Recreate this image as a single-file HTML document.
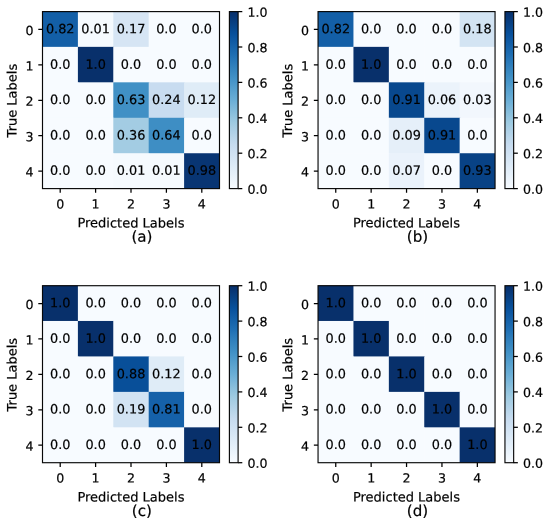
<!DOCTYPE html>
<html lang="en"><head><meta charset="utf-8"><title>Confusion matrices</title>
<style>
html,body{margin:0;padding:0;background:#fff;}
body{width:550px;height:526px;overflow:hidden;}
svg{display:block;}
svg text{text-rendering:geometricPrecision;font-family:"DejaVu Sans","Liberation Sans",sans-serif;fill:#000;stroke:#000;stroke-width:0.2px;}
.t{font-size:12.6px}.n{font-size:12.85px}.l{font-size:13px}.c{font-size:15.1px}
</style></head><body>
<svg width="550" height="526" viewBox="0 0 550 526">
<defs><linearGradient id="cb" x1="0" y1="1" x2="0" y2="0">
<stop offset="0.0000" stop-color="#f7fbff"/><stop offset="0.0312" stop-color="#f1f7fd"/><stop offset="0.0625" stop-color="#eaf3fb"/><stop offset="0.0938" stop-color="#e4eff9"/><stop offset="0.1250" stop-color="#deebf7"/><stop offset="0.1562" stop-color="#d8e7f5"/><stop offset="0.1875" stop-color="#d2e3f3"/><stop offset="0.2188" stop-color="#ccdff1"/><stop offset="0.2500" stop-color="#c6dbef"/><stop offset="0.2812" stop-color="#bcd7eb"/><stop offset="0.3125" stop-color="#b2d2e8"/><stop offset="0.3438" stop-color="#a8cee4"/><stop offset="0.3750" stop-color="#9dcae1"/><stop offset="0.4062" stop-color="#91c3de"/><stop offset="0.4375" stop-color="#84bcdb"/><stop offset="0.4688" stop-color="#77b5d9"/><stop offset="0.5000" stop-color="#6aaed6"/><stop offset="0.5312" stop-color="#60a7d2"/><stop offset="0.5625" stop-color="#56a0ce"/><stop offset="0.5938" stop-color="#4b98ca"/><stop offset="0.6250" stop-color="#4191c6"/><stop offset="0.6562" stop-color="#3989c1"/><stop offset="0.6875" stop-color="#3181bd"/><stop offset="0.7188" stop-color="#2979b9"/><stop offset="0.7500" stop-color="#2070b4"/><stop offset="0.7812" stop-color="#1a68ae"/><stop offset="0.8125" stop-color="#1460a8"/><stop offset="0.8438" stop-color="#0e58a2"/><stop offset="0.8750" stop-color="#08509b"/><stop offset="0.9062" stop-color="#08488e"/><stop offset="0.9375" stop-color="#084082"/><stop offset="0.9688" stop-color="#083776"/><stop offset="1.0000" stop-color="#08306b"/>
</linearGradient></defs>
<rect width="550" height="526" fill="#fff"/>
<g>
<rect x="42.50" y="11.40" width="36.00" height="36.06" fill="#135fa7"/>
<rect x="77.90" y="11.40" width="36.00" height="36.06" fill="#f5fafe"/>
<rect x="113.30" y="11.40" width="36.00" height="36.06" fill="#d6e5f4"/>
<rect x="148.70" y="11.40" width="36.00" height="36.06" fill="#f7fbff"/>
<rect x="184.10" y="11.40" width="35.40" height="36.06" fill="#f7fbff"/>
<rect x="42.50" y="46.86" width="36.00" height="36.06" fill="#f7fbff"/>
<rect x="77.90" y="46.86" width="36.00" height="36.06" fill="#08306b"/>
<rect x="113.30" y="46.86" width="36.00" height="36.06" fill="#f7fbff"/>
<rect x="148.70" y="46.86" width="36.00" height="36.06" fill="#f7fbff"/>
<rect x="184.10" y="46.86" width="35.40" height="36.06" fill="#f7fbff"/>
<rect x="42.50" y="82.32" width="36.00" height="36.06" fill="#f7fbff"/>
<rect x="77.90" y="82.32" width="36.00" height="36.06" fill="#f7fbff"/>
<rect x="113.30" y="82.32" width="36.00" height="36.06" fill="#4090c5"/>
<rect x="148.70" y="82.32" width="36.00" height="36.06" fill="#c8dcf0"/>
<rect x="184.10" y="82.32" width="35.40" height="36.06" fill="#dfecf7"/>
<rect x="42.50" y="117.78" width="36.00" height="36.06" fill="#f7fbff"/>
<rect x="77.90" y="117.78" width="36.00" height="36.06" fill="#f7fbff"/>
<rect x="113.30" y="117.78" width="36.00" height="36.06" fill="#a3cce3"/>
<rect x="148.70" y="117.78" width="36.00" height="36.06" fill="#3e8ec4"/>
<rect x="184.10" y="117.78" width="35.40" height="36.06" fill="#f7fbff"/>
<rect x="42.50" y="153.24" width="36.00" height="35.46" fill="#f7fbff"/>
<rect x="77.90" y="153.24" width="36.00" height="35.46" fill="#f7fbff"/>
<rect x="113.30" y="153.24" width="36.00" height="35.46" fill="#f5fafe"/>
<rect x="148.70" y="153.24" width="36.00" height="35.46" fill="#f5fafe"/>
<rect x="184.10" y="153.24" width="35.40" height="35.46" fill="#083573"/>
<text class="n" transform="translate(60.20 33.25) rotate(0.05)" text-anchor="middle">0.82</text>
<text class="n" transform="translate(95.60 33.25) rotate(0.05)" text-anchor="middle">0.01</text>
<text class="n" transform="translate(131.00 33.25) rotate(0.05)" text-anchor="middle">0.17</text>
<text class="n" transform="translate(166.40 33.25) rotate(0.05)" text-anchor="middle">0.0</text>
<text class="n" transform="translate(201.80 33.25) rotate(0.05)" text-anchor="middle">0.0</text>
<text class="n" transform="translate(60.20 68.65) rotate(0.05)" text-anchor="middle">0.0</text>
<text class="n" transform="translate(95.60 68.65) rotate(0.05)" text-anchor="middle">1.0</text>
<text class="n" transform="translate(131.00 68.65) rotate(0.05)" text-anchor="middle">0.0</text>
<text class="n" transform="translate(166.40 68.65) rotate(0.05)" text-anchor="middle">0.0</text>
<text class="n" transform="translate(201.80 68.65) rotate(0.05)" text-anchor="middle">0.0</text>
<text class="n" transform="translate(60.20 104.05) rotate(0.05)" text-anchor="middle">0.0</text>
<text class="n" transform="translate(95.60 104.05) rotate(0.05)" text-anchor="middle">0.0</text>
<text class="n" transform="translate(131.00 104.05) rotate(0.05)" text-anchor="middle">0.63</text>
<text class="n" transform="translate(166.40 104.05) rotate(0.05)" text-anchor="middle">0.24</text>
<text class="n" transform="translate(201.80 104.05) rotate(0.05)" text-anchor="middle">0.12</text>
<text class="n" transform="translate(60.20 139.45) rotate(0.05)" text-anchor="middle">0.0</text>
<text class="n" transform="translate(95.60 139.45) rotate(0.05)" text-anchor="middle">0.0</text>
<text class="n" transform="translate(131.00 139.45) rotate(0.05)" text-anchor="middle">0.36</text>
<text class="n" transform="translate(166.40 139.45) rotate(0.05)" text-anchor="middle">0.64</text>
<text class="n" transform="translate(201.80 139.45) rotate(0.05)" text-anchor="middle">0.0</text>
<text class="n" transform="translate(60.20 174.85) rotate(0.05)" text-anchor="middle">0.0</text>
<text class="n" transform="translate(95.60 174.85) rotate(0.05)" text-anchor="middle">0.0</text>
<text class="n" transform="translate(131.00 174.85) rotate(0.05)" text-anchor="middle">0.01</text>
<text class="n" transform="translate(166.40 174.85) rotate(0.05)" text-anchor="middle">0.01</text>
<text class="n" transform="translate(201.80 174.85) rotate(0.05)" text-anchor="middle">0.98</text>
<rect x="42.50" y="11.60" width="177.00" height="177.00" fill="none" stroke="#080808" stroke-width="1.15"/>
<path d="M60.20 188.60v4.20M42.50 29.45h-4.20" stroke="#000" stroke-width="1.25" fill="none"/>
<text class="t" transform="translate(60.20 208.50) rotate(0.05)" text-anchor="middle">0</text>
<text class="t" transform="translate(33.45 35.00) rotate(0.05)" text-anchor="end">0</text>
<path d="M95.60 188.60v4.20M42.50 64.85h-4.20" stroke="#000" stroke-width="1.25" fill="none"/>
<text class="t" transform="translate(95.60 208.50) rotate(0.05)" text-anchor="middle">1</text>
<text class="t" transform="translate(33.45 70.40) rotate(0.05)" text-anchor="end">1</text>
<path d="M131.00 188.60v4.20M42.50 100.25h-4.20" stroke="#000" stroke-width="1.25" fill="none"/>
<text class="t" transform="translate(131.00 208.50) rotate(0.05)" text-anchor="middle">2</text>
<text class="t" transform="translate(33.45 105.80) rotate(0.05)" text-anchor="end">2</text>
<path d="M166.40 188.60v4.20M42.50 135.65h-4.20" stroke="#000" stroke-width="1.25" fill="none"/>
<text class="t" transform="translate(166.40 208.50) rotate(0.05)" text-anchor="middle">3</text>
<text class="t" transform="translate(33.45 141.20) rotate(0.05)" text-anchor="end">3</text>
<path d="M201.80 188.60v4.20M42.50 171.05h-4.20" stroke="#000" stroke-width="1.25" fill="none"/>
<text class="t" transform="translate(201.80 208.50) rotate(0.05)" text-anchor="middle">4</text>
<text class="t" transform="translate(33.45 176.60) rotate(0.05)" text-anchor="end">4</text>
<text class="l" transform="translate(130.90 227.40) rotate(0.05)" text-anchor="middle">Predicted Labels</text>
<text class="l" transform="translate(16.60 100.60) rotate(-90) skewY(0.05)" text-anchor="middle">True Labels</text>
<text class="c" transform="translate(141.90 241.80) rotate(0.05)" text-anchor="middle">(a)</text>
<rect x="229.40" y="11.60" width="8.70" height="177.00" fill="url(#cb)" stroke="#080808" stroke-width="1.15"/>
<path d="M238.10 188.60h4.20" stroke="#000" stroke-width="1.25"/>
<text class="t" transform="translate(247.40 193.75) rotate(0.05)">0.0</text>
<path d="M238.10 153.20h4.20" stroke="#000" stroke-width="1.25"/>
<text class="t" transform="translate(247.40 158.35) rotate(0.05)">0.2</text>
<path d="M238.10 117.80h4.20" stroke="#000" stroke-width="1.25"/>
<text class="t" transform="translate(247.40 122.95) rotate(0.05)">0.4</text>
<path d="M238.10 82.40h4.20" stroke="#000" stroke-width="1.25"/>
<text class="t" transform="translate(247.40 87.55) rotate(0.05)">0.6</text>
<path d="M238.10 47.00h4.20" stroke="#000" stroke-width="1.25"/>
<text class="t" transform="translate(247.40 52.15) rotate(0.05)">0.8</text>
<path d="M238.10 11.60h4.20" stroke="#000" stroke-width="1.25"/>
<text class="t" transform="translate(247.40 16.75) rotate(0.05)">1.0</text>
</g>
<g>
<rect x="318.05" y="11.40" width="36.00" height="36.06" fill="#135fa7"/>
<rect x="353.45" y="11.40" width="36.00" height="36.06" fill="#f7fbff"/>
<rect x="388.85" y="11.40" width="36.00" height="36.06" fill="#f7fbff"/>
<rect x="424.25" y="11.40" width="36.00" height="36.06" fill="#f7fbff"/>
<rect x="459.65" y="11.40" width="35.40" height="36.06" fill="#d3e4f3"/>
<rect x="318.05" y="46.86" width="36.00" height="36.06" fill="#f7fbff"/>
<rect x="353.45" y="46.86" width="36.00" height="36.06" fill="#08306b"/>
<rect x="388.85" y="46.86" width="36.00" height="36.06" fill="#f7fbff"/>
<rect x="424.25" y="46.86" width="36.00" height="36.06" fill="#f7fbff"/>
<rect x="459.65" y="46.86" width="35.40" height="36.06" fill="#f7fbff"/>
<rect x="318.05" y="82.32" width="36.00" height="36.06" fill="#f7fbff"/>
<rect x="353.45" y="82.32" width="36.00" height="36.06" fill="#f7fbff"/>
<rect x="388.85" y="82.32" width="36.00" height="36.06" fill="#08488e"/>
<rect x="424.25" y="82.32" width="36.00" height="36.06" fill="#ebf3fb"/>
<rect x="459.65" y="82.32" width="35.40" height="36.06" fill="#f2f7fd"/>
<rect x="318.05" y="117.78" width="36.00" height="36.06" fill="#f7fbff"/>
<rect x="353.45" y="117.78" width="36.00" height="36.06" fill="#f7fbff"/>
<rect x="388.85" y="117.78" width="36.00" height="36.06" fill="#e5eff9"/>
<rect x="424.25" y="117.78" width="36.00" height="36.06" fill="#08488e"/>
<rect x="459.65" y="117.78" width="35.40" height="36.06" fill="#f7fbff"/>
<rect x="318.05" y="153.24" width="36.00" height="35.46" fill="#f7fbff"/>
<rect x="353.45" y="153.24" width="36.00" height="35.46" fill="#f7fbff"/>
<rect x="388.85" y="153.24" width="36.00" height="35.46" fill="#eaf2fb"/>
<rect x="424.25" y="153.24" width="36.00" height="35.46" fill="#f7fbff"/>
<rect x="459.65" y="153.24" width="35.40" height="35.46" fill="#084285"/>
<text class="n" transform="translate(335.75 33.25) rotate(0.05)" text-anchor="middle">0.82</text>
<text class="n" transform="translate(371.15 33.25) rotate(0.05)" text-anchor="middle">0.0</text>
<text class="n" transform="translate(406.55 33.25) rotate(0.05)" text-anchor="middle">0.0</text>
<text class="n" transform="translate(441.95 33.25) rotate(0.05)" text-anchor="middle">0.0</text>
<text class="n" transform="translate(477.35 33.25) rotate(0.05)" text-anchor="middle">0.18</text>
<text class="n" transform="translate(335.75 68.65) rotate(0.05)" text-anchor="middle">0.0</text>
<text class="n" transform="translate(371.15 68.65) rotate(0.05)" text-anchor="middle">1.0</text>
<text class="n" transform="translate(406.55 68.65) rotate(0.05)" text-anchor="middle">0.0</text>
<text class="n" transform="translate(441.95 68.65) rotate(0.05)" text-anchor="middle">0.0</text>
<text class="n" transform="translate(477.35 68.65) rotate(0.05)" text-anchor="middle">0.0</text>
<text class="n" transform="translate(335.75 104.05) rotate(0.05)" text-anchor="middle">0.0</text>
<text class="n" transform="translate(371.15 104.05) rotate(0.05)" text-anchor="middle">0.0</text>
<text class="n" transform="translate(406.55 104.05) rotate(0.05)" text-anchor="middle">0.91</text>
<text class="n" transform="translate(441.95 104.05) rotate(0.05)" text-anchor="middle">0.06</text>
<text class="n" transform="translate(477.35 104.05) rotate(0.05)" text-anchor="middle">0.03</text>
<text class="n" transform="translate(335.75 139.45) rotate(0.05)" text-anchor="middle">0.0</text>
<text class="n" transform="translate(371.15 139.45) rotate(0.05)" text-anchor="middle">0.0</text>
<text class="n" transform="translate(406.55 139.45) rotate(0.05)" text-anchor="middle">0.09</text>
<text class="n" transform="translate(441.95 139.45) rotate(0.05)" text-anchor="middle">0.91</text>
<text class="n" transform="translate(477.35 139.45) rotate(0.05)" text-anchor="middle">0.0</text>
<text class="n" transform="translate(335.75 174.85) rotate(0.05)" text-anchor="middle">0.0</text>
<text class="n" transform="translate(371.15 174.85) rotate(0.05)" text-anchor="middle">0.0</text>
<text class="n" transform="translate(406.55 174.85) rotate(0.05)" text-anchor="middle">0.07</text>
<text class="n" transform="translate(441.95 174.85) rotate(0.05)" text-anchor="middle">0.0</text>
<text class="n" transform="translate(477.35 174.85) rotate(0.05)" text-anchor="middle">0.93</text>
<rect x="318.05" y="11.60" width="177.00" height="177.00" fill="none" stroke="#080808" stroke-width="1.15"/>
<path d="M335.75 188.60v4.20M318.05 29.45h-4.20" stroke="#000" stroke-width="1.25" fill="none"/>
<text class="t" transform="translate(335.75 208.50) rotate(0.05)" text-anchor="middle">0</text>
<text class="t" transform="translate(309.00 35.00) rotate(0.05)" text-anchor="end">0</text>
<path d="M371.15 188.60v4.20M318.05 64.85h-4.20" stroke="#000" stroke-width="1.25" fill="none"/>
<text class="t" transform="translate(371.15 208.50) rotate(0.05)" text-anchor="middle">1</text>
<text class="t" transform="translate(309.00 70.40) rotate(0.05)" text-anchor="end">1</text>
<path d="M406.55 188.60v4.20M318.05 100.25h-4.20" stroke="#000" stroke-width="1.25" fill="none"/>
<text class="t" transform="translate(406.55 208.50) rotate(0.05)" text-anchor="middle">2</text>
<text class="t" transform="translate(309.00 105.80) rotate(0.05)" text-anchor="end">2</text>
<path d="M441.95 188.60v4.20M318.05 135.65h-4.20" stroke="#000" stroke-width="1.25" fill="none"/>
<text class="t" transform="translate(441.95 208.50) rotate(0.05)" text-anchor="middle">3</text>
<text class="t" transform="translate(309.00 141.20) rotate(0.05)" text-anchor="end">3</text>
<path d="M477.35 188.60v4.20M318.05 171.05h-4.20" stroke="#000" stroke-width="1.25" fill="none"/>
<text class="t" transform="translate(477.35 208.50) rotate(0.05)" text-anchor="middle">4</text>
<text class="t" transform="translate(309.00 176.60) rotate(0.05)" text-anchor="end">4</text>
<text class="l" transform="translate(406.45 227.40) rotate(0.05)" text-anchor="middle">Predicted Labels</text>
<text class="l" transform="translate(292.15 100.60) rotate(-90) skewY(0.05)" text-anchor="middle">True Labels</text>
<text class="c" transform="translate(417.45 241.80) rotate(0.05)" text-anchor="middle">(b)</text>
<rect x="504.95" y="11.60" width="8.70" height="177.00" fill="url(#cb)" stroke="#080808" stroke-width="1.15"/>
<path d="M513.65 188.60h4.20" stroke="#000" stroke-width="1.25"/>
<text class="t" transform="translate(522.95 193.75) rotate(0.05)">0.0</text>
<path d="M513.65 153.20h4.20" stroke="#000" stroke-width="1.25"/>
<text class="t" transform="translate(522.95 158.35) rotate(0.05)">0.2</text>
<path d="M513.65 117.80h4.20" stroke="#000" stroke-width="1.25"/>
<text class="t" transform="translate(522.95 122.95) rotate(0.05)">0.4</text>
<path d="M513.65 82.40h4.20" stroke="#000" stroke-width="1.25"/>
<text class="t" transform="translate(522.95 87.55) rotate(0.05)">0.6</text>
<path d="M513.65 47.00h4.20" stroke="#000" stroke-width="1.25"/>
<text class="t" transform="translate(522.95 52.15) rotate(0.05)">0.8</text>
<path d="M513.65 11.60h4.20" stroke="#000" stroke-width="1.25"/>
<text class="t" transform="translate(522.95 16.75) rotate(0.05)">1.0</text>
</g>
<g>
<rect x="42.50" y="285.50" width="36.00" height="36.06" fill="#08306b"/>
<rect x="77.90" y="285.50" width="36.00" height="36.06" fill="#f7fbff"/>
<rect x="113.30" y="285.50" width="36.00" height="36.06" fill="#f7fbff"/>
<rect x="148.70" y="285.50" width="36.00" height="36.06" fill="#f7fbff"/>
<rect x="184.10" y="285.50" width="35.40" height="36.06" fill="#f7fbff"/>
<rect x="42.50" y="320.96" width="36.00" height="36.06" fill="#f7fbff"/>
<rect x="77.90" y="320.96" width="36.00" height="36.06" fill="#08306b"/>
<rect x="113.30" y="320.96" width="36.00" height="36.06" fill="#f7fbff"/>
<rect x="148.70" y="320.96" width="36.00" height="36.06" fill="#f7fbff"/>
<rect x="184.10" y="320.96" width="35.40" height="36.06" fill="#f7fbff"/>
<rect x="42.50" y="356.42" width="36.00" height="36.06" fill="#f7fbff"/>
<rect x="77.90" y="356.42" width="36.00" height="36.06" fill="#f7fbff"/>
<rect x="113.30" y="356.42" width="36.00" height="36.06" fill="#084f99"/>
<rect x="148.70" y="356.42" width="36.00" height="36.06" fill="#dfecf7"/>
<rect x="184.10" y="356.42" width="35.40" height="36.06" fill="#f7fbff"/>
<rect x="42.50" y="391.88" width="36.00" height="36.06" fill="#f7fbff"/>
<rect x="77.90" y="391.88" width="36.00" height="36.06" fill="#f7fbff"/>
<rect x="113.30" y="391.88" width="36.00" height="36.06" fill="#d2e3f3"/>
<rect x="148.70" y="391.88" width="36.00" height="36.06" fill="#1561a9"/>
<rect x="184.10" y="391.88" width="35.40" height="36.06" fill="#f7fbff"/>
<rect x="42.50" y="427.34" width="36.00" height="35.46" fill="#f7fbff"/>
<rect x="77.90" y="427.34" width="36.00" height="35.46" fill="#f7fbff"/>
<rect x="113.30" y="427.34" width="36.00" height="35.46" fill="#f7fbff"/>
<rect x="148.70" y="427.34" width="36.00" height="35.46" fill="#f7fbff"/>
<rect x="184.10" y="427.34" width="35.40" height="35.46" fill="#08306b"/>
<text class="n" transform="translate(60.20 307.35) rotate(0.05)" text-anchor="middle">1.0</text>
<text class="n" transform="translate(95.60 307.35) rotate(0.05)" text-anchor="middle">0.0</text>
<text class="n" transform="translate(131.00 307.35) rotate(0.05)" text-anchor="middle">0.0</text>
<text class="n" transform="translate(166.40 307.35) rotate(0.05)" text-anchor="middle">0.0</text>
<text class="n" transform="translate(201.80 307.35) rotate(0.05)" text-anchor="middle">0.0</text>
<text class="n" transform="translate(60.20 342.75) rotate(0.05)" text-anchor="middle">0.0</text>
<text class="n" transform="translate(95.60 342.75) rotate(0.05)" text-anchor="middle">1.0</text>
<text class="n" transform="translate(131.00 342.75) rotate(0.05)" text-anchor="middle">0.0</text>
<text class="n" transform="translate(166.40 342.75) rotate(0.05)" text-anchor="middle">0.0</text>
<text class="n" transform="translate(201.80 342.75) rotate(0.05)" text-anchor="middle">0.0</text>
<text class="n" transform="translate(60.20 378.15) rotate(0.05)" text-anchor="middle">0.0</text>
<text class="n" transform="translate(95.60 378.15) rotate(0.05)" text-anchor="middle">0.0</text>
<text class="n" transform="translate(131.00 378.15) rotate(0.05)" text-anchor="middle">0.88</text>
<text class="n" transform="translate(166.40 378.15) rotate(0.05)" text-anchor="middle">0.12</text>
<text class="n" transform="translate(201.80 378.15) rotate(0.05)" text-anchor="middle">0.0</text>
<text class="n" transform="translate(60.20 413.55) rotate(0.05)" text-anchor="middle">0.0</text>
<text class="n" transform="translate(95.60 413.55) rotate(0.05)" text-anchor="middle">0.0</text>
<text class="n" transform="translate(131.00 413.55) rotate(0.05)" text-anchor="middle">0.19</text>
<text class="n" transform="translate(166.40 413.55) rotate(0.05)" text-anchor="middle">0.81</text>
<text class="n" transform="translate(201.80 413.55) rotate(0.05)" text-anchor="middle">0.0</text>
<text class="n" transform="translate(60.20 448.95) rotate(0.05)" text-anchor="middle">0.0</text>
<text class="n" transform="translate(95.60 448.95) rotate(0.05)" text-anchor="middle">0.0</text>
<text class="n" transform="translate(131.00 448.95) rotate(0.05)" text-anchor="middle">0.0</text>
<text class="n" transform="translate(166.40 448.95) rotate(0.05)" text-anchor="middle">0.0</text>
<text class="n" transform="translate(201.80 448.95) rotate(0.05)" text-anchor="middle">1.0</text>
<rect x="42.50" y="285.70" width="177.00" height="177.00" fill="none" stroke="#080808" stroke-width="1.15"/>
<path d="M60.20 462.70v4.20M42.50 303.55h-4.20" stroke="#000" stroke-width="1.25" fill="none"/>
<text class="t" transform="translate(60.20 482.60) rotate(0.05)" text-anchor="middle">0</text>
<text class="t" transform="translate(33.45 309.10) rotate(0.05)" text-anchor="end">0</text>
<path d="M95.60 462.70v4.20M42.50 338.95h-4.20" stroke="#000" stroke-width="1.25" fill="none"/>
<text class="t" transform="translate(95.60 482.60) rotate(0.05)" text-anchor="middle">1</text>
<text class="t" transform="translate(33.45 344.50) rotate(0.05)" text-anchor="end">1</text>
<path d="M131.00 462.70v4.20M42.50 374.35h-4.20" stroke="#000" stroke-width="1.25" fill="none"/>
<text class="t" transform="translate(131.00 482.60) rotate(0.05)" text-anchor="middle">2</text>
<text class="t" transform="translate(33.45 379.90) rotate(0.05)" text-anchor="end">2</text>
<path d="M166.40 462.70v4.20M42.50 409.75h-4.20" stroke="#000" stroke-width="1.25" fill="none"/>
<text class="t" transform="translate(166.40 482.60) rotate(0.05)" text-anchor="middle">3</text>
<text class="t" transform="translate(33.45 415.30) rotate(0.05)" text-anchor="end">3</text>
<path d="M201.80 462.70v4.20M42.50 445.15h-4.20" stroke="#000" stroke-width="1.25" fill="none"/>
<text class="t" transform="translate(201.80 482.60) rotate(0.05)" text-anchor="middle">4</text>
<text class="t" transform="translate(33.45 450.70) rotate(0.05)" text-anchor="end">4</text>
<text class="l" transform="translate(130.90 501.50) rotate(0.05)" text-anchor="middle">Predicted Labels</text>
<text class="l" transform="translate(16.60 374.70) rotate(-90) skewY(0.05)" text-anchor="middle">True Labels</text>
<text class="c" transform="translate(141.90 515.90) rotate(0.05)" text-anchor="middle">(c)</text>
<rect x="229.40" y="285.70" width="8.70" height="177.00" fill="url(#cb)" stroke="#080808" stroke-width="1.15"/>
<path d="M238.10 462.70h4.20" stroke="#000" stroke-width="1.25"/>
<text class="t" transform="translate(247.40 467.85) rotate(0.05)">0.0</text>
<path d="M238.10 427.30h4.20" stroke="#000" stroke-width="1.25"/>
<text class="t" transform="translate(247.40 432.45) rotate(0.05)">0.2</text>
<path d="M238.10 391.90h4.20" stroke="#000" stroke-width="1.25"/>
<text class="t" transform="translate(247.40 397.05) rotate(0.05)">0.4</text>
<path d="M238.10 356.50h4.20" stroke="#000" stroke-width="1.25"/>
<text class="t" transform="translate(247.40 361.65) rotate(0.05)">0.6</text>
<path d="M238.10 321.10h4.20" stroke="#000" stroke-width="1.25"/>
<text class="t" transform="translate(247.40 326.25) rotate(0.05)">0.8</text>
<path d="M238.10 285.70h4.20" stroke="#000" stroke-width="1.25"/>
<text class="t" transform="translate(247.40 290.85) rotate(0.05)">1.0</text>
</g>
<g>
<rect x="318.05" y="285.50" width="36.00" height="36.06" fill="#08306b"/>
<rect x="353.45" y="285.50" width="36.00" height="36.06" fill="#f7fbff"/>
<rect x="388.85" y="285.50" width="36.00" height="36.06" fill="#f7fbff"/>
<rect x="424.25" y="285.50" width="36.00" height="36.06" fill="#f7fbff"/>
<rect x="459.65" y="285.50" width="35.40" height="36.06" fill="#f7fbff"/>
<rect x="318.05" y="320.96" width="36.00" height="36.06" fill="#f7fbff"/>
<rect x="353.45" y="320.96" width="36.00" height="36.06" fill="#08306b"/>
<rect x="388.85" y="320.96" width="36.00" height="36.06" fill="#f7fbff"/>
<rect x="424.25" y="320.96" width="36.00" height="36.06" fill="#f7fbff"/>
<rect x="459.65" y="320.96" width="35.40" height="36.06" fill="#f7fbff"/>
<rect x="318.05" y="356.42" width="36.00" height="36.06" fill="#f7fbff"/>
<rect x="353.45" y="356.42" width="36.00" height="36.06" fill="#f7fbff"/>
<rect x="388.85" y="356.42" width="36.00" height="36.06" fill="#08306b"/>
<rect x="424.25" y="356.42" width="36.00" height="36.06" fill="#f7fbff"/>
<rect x="459.65" y="356.42" width="35.40" height="36.06" fill="#f7fbff"/>
<rect x="318.05" y="391.88" width="36.00" height="36.06" fill="#f7fbff"/>
<rect x="353.45" y="391.88" width="36.00" height="36.06" fill="#f7fbff"/>
<rect x="388.85" y="391.88" width="36.00" height="36.06" fill="#f7fbff"/>
<rect x="424.25" y="391.88" width="36.00" height="36.06" fill="#08306b"/>
<rect x="459.65" y="391.88" width="35.40" height="36.06" fill="#f7fbff"/>
<rect x="318.05" y="427.34" width="36.00" height="35.46" fill="#f7fbff"/>
<rect x="353.45" y="427.34" width="36.00" height="35.46" fill="#f7fbff"/>
<rect x="388.85" y="427.34" width="36.00" height="35.46" fill="#f7fbff"/>
<rect x="424.25" y="427.34" width="36.00" height="35.46" fill="#f7fbff"/>
<rect x="459.65" y="427.34" width="35.40" height="35.46" fill="#08306b"/>
<text class="n" transform="translate(335.75 307.35) rotate(0.05)" text-anchor="middle">1.0</text>
<text class="n" transform="translate(371.15 307.35) rotate(0.05)" text-anchor="middle">0.0</text>
<text class="n" transform="translate(406.55 307.35) rotate(0.05)" text-anchor="middle">0.0</text>
<text class="n" transform="translate(441.95 307.35) rotate(0.05)" text-anchor="middle">0.0</text>
<text class="n" transform="translate(477.35 307.35) rotate(0.05)" text-anchor="middle">0.0</text>
<text class="n" transform="translate(335.75 342.75) rotate(0.05)" text-anchor="middle">0.0</text>
<text class="n" transform="translate(371.15 342.75) rotate(0.05)" text-anchor="middle">1.0</text>
<text class="n" transform="translate(406.55 342.75) rotate(0.05)" text-anchor="middle">0.0</text>
<text class="n" transform="translate(441.95 342.75) rotate(0.05)" text-anchor="middle">0.0</text>
<text class="n" transform="translate(477.35 342.75) rotate(0.05)" text-anchor="middle">0.0</text>
<text class="n" transform="translate(335.75 378.15) rotate(0.05)" text-anchor="middle">0.0</text>
<text class="n" transform="translate(371.15 378.15) rotate(0.05)" text-anchor="middle">0.0</text>
<text class="n" transform="translate(406.55 378.15) rotate(0.05)" text-anchor="middle">1.0</text>
<text class="n" transform="translate(441.95 378.15) rotate(0.05)" text-anchor="middle">0.0</text>
<text class="n" transform="translate(477.35 378.15) rotate(0.05)" text-anchor="middle">0.0</text>
<text class="n" transform="translate(335.75 413.55) rotate(0.05)" text-anchor="middle">0.0</text>
<text class="n" transform="translate(371.15 413.55) rotate(0.05)" text-anchor="middle">0.0</text>
<text class="n" transform="translate(406.55 413.55) rotate(0.05)" text-anchor="middle">0.0</text>
<text class="n" transform="translate(441.95 413.55) rotate(0.05)" text-anchor="middle">1.0</text>
<text class="n" transform="translate(477.35 413.55) rotate(0.05)" text-anchor="middle">0.0</text>
<text class="n" transform="translate(335.75 448.95) rotate(0.05)" text-anchor="middle">0.0</text>
<text class="n" transform="translate(371.15 448.95) rotate(0.05)" text-anchor="middle">0.0</text>
<text class="n" transform="translate(406.55 448.95) rotate(0.05)" text-anchor="middle">0.0</text>
<text class="n" transform="translate(441.95 448.95) rotate(0.05)" text-anchor="middle">0.0</text>
<text class="n" transform="translate(477.35 448.95) rotate(0.05)" text-anchor="middle">1.0</text>
<rect x="318.05" y="285.70" width="177.00" height="177.00" fill="none" stroke="#080808" stroke-width="1.15"/>
<path d="M335.75 462.70v4.20M318.05 303.55h-4.20" stroke="#000" stroke-width="1.25" fill="none"/>
<text class="t" transform="translate(335.75 482.60) rotate(0.05)" text-anchor="middle">0</text>
<text class="t" transform="translate(309.00 309.10) rotate(0.05)" text-anchor="end">0</text>
<path d="M371.15 462.70v4.20M318.05 338.95h-4.20" stroke="#000" stroke-width="1.25" fill="none"/>
<text class="t" transform="translate(371.15 482.60) rotate(0.05)" text-anchor="middle">1</text>
<text class="t" transform="translate(309.00 344.50) rotate(0.05)" text-anchor="end">1</text>
<path d="M406.55 462.70v4.20M318.05 374.35h-4.20" stroke="#000" stroke-width="1.25" fill="none"/>
<text class="t" transform="translate(406.55 482.60) rotate(0.05)" text-anchor="middle">2</text>
<text class="t" transform="translate(309.00 379.90) rotate(0.05)" text-anchor="end">2</text>
<path d="M441.95 462.70v4.20M318.05 409.75h-4.20" stroke="#000" stroke-width="1.25" fill="none"/>
<text class="t" transform="translate(441.95 482.60) rotate(0.05)" text-anchor="middle">3</text>
<text class="t" transform="translate(309.00 415.30) rotate(0.05)" text-anchor="end">3</text>
<path d="M477.35 462.70v4.20M318.05 445.15h-4.20" stroke="#000" stroke-width="1.25" fill="none"/>
<text class="t" transform="translate(477.35 482.60) rotate(0.05)" text-anchor="middle">4</text>
<text class="t" transform="translate(309.00 450.70) rotate(0.05)" text-anchor="end">4</text>
<text class="l" transform="translate(406.45 501.50) rotate(0.05)" text-anchor="middle">Predicted Labels</text>
<text class="l" transform="translate(292.15 374.70) rotate(-90) skewY(0.05)" text-anchor="middle">True Labels</text>
<text class="c" transform="translate(417.45 515.90) rotate(0.05)" text-anchor="middle">(d)</text>
<rect x="504.95" y="285.70" width="8.70" height="177.00" fill="url(#cb)" stroke="#080808" stroke-width="1.15"/>
<path d="M513.65 462.70h4.20" stroke="#000" stroke-width="1.25"/>
<text class="t" transform="translate(522.95 467.85) rotate(0.05)">0.0</text>
<path d="M513.65 427.30h4.20" stroke="#000" stroke-width="1.25"/>
<text class="t" transform="translate(522.95 432.45) rotate(0.05)">0.2</text>
<path d="M513.65 391.90h4.20" stroke="#000" stroke-width="1.25"/>
<text class="t" transform="translate(522.95 397.05) rotate(0.05)">0.4</text>
<path d="M513.65 356.50h4.20" stroke="#000" stroke-width="1.25"/>
<text class="t" transform="translate(522.95 361.65) rotate(0.05)">0.6</text>
<path d="M513.65 321.10h4.20" stroke="#000" stroke-width="1.25"/>
<text class="t" transform="translate(522.95 326.25) rotate(0.05)">0.8</text>
<path d="M513.65 285.70h4.20" stroke="#000" stroke-width="1.25"/>
<text class="t" transform="translate(522.95 290.85) rotate(0.05)">1.0</text>
</g>
</svg>
</body></html>
